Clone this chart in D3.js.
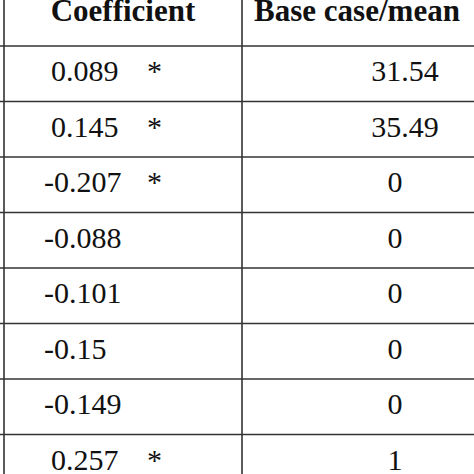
<!DOCTYPE html>
<html lang="en">
<head>
<meta charset="UTF-8">
<title>Coefficient table</title>
<style>
  body { margin: 0; background: #fff; }
  text { font-family: "Liberation Serif", "Times New Roman", serif; fill: #111; }
</style>
</head>
<body>
<svg height="474" width="474"></svg>
<script src="https://d3js.org/d3.v7.min.js"></script>
<script>
    var headers = ["Coefficient", "Base case/mean"];
    var coefs = ["0.089", "0.145", "-0.207", "-0.088", "-0.101", "-0.15", "-0.149", "0.257"];
    var stars = [true, true, true, false, false, false, false, true];
    var baseVals = ["31.54", "35.49", "0", "0", "0", "0", "0", "1"];

    var svg = d3.select("svg");
    var firstLine = 46, rowH = 55.5, divX = 242, leftX = 4;

    // one band per data row
    var rowScale = d3.scaleBand()
        .domain(d3.range(coefs.length))
        .range([firstLine, firstLine + rowH * coefs.length]);

    var lines = svg.append("g").attr("stroke", "#333").attr("stroke-width", 1.6);

    rowScale.domain().forEach(function(i) {
        lines.append("line")
            .attr("x1", 0).attr("x2", 474)
            .attr("y1", rowScale(i)).attr("y2", rowScale(i));
    });
    lines.append("line").attr("x1", leftX).attr("x2", leftX).attr("y1", 0).attr("y2", 474);
    lines.append("line").attr("x1", divX).attr("x2", divX).attr("y1", 0).attr("y2", 474);

    // header
    svg.append("text").attr("x", 123).attr("y", 21)
        .attr("text-anchor", "middle").attr("font-weight", "bold").attr("font-size", 31)
        .text(headers[0]);
    svg.append("text").attr("x", 357).attr("y", 21)
        .attr("text-anchor", "middle").attr("font-weight", "bold").attr("font-size", 31)
        .text(headers[1]);

    var rows = svg.selectAll(".row")
        .data(coefs)
        .enter().append("g")
        .attr("class", "row")
        .attr("transform", function(d, i) { return "translate(0," + (rowScale(i) + 35) + ")"; });

    rows.append("text")
        .attr("x", function(d) { return d.charAt(0) === "-" ? 44 : 51; })
        .attr("font-size", 30)
        .text(function(d) { return d; });

    rows.append("text")
        .attr("x", 147)
        .attr("font-size", 30)
        .text(function(d, i) { return stars[i] ? "*" : ""; });

    rows.append("text")
        .attr("x", function(d, i) { return baseVals[i].length > 1 ? 405 : 395; })
        .attr("text-anchor", "middle")
        .attr("font-size", 30)
        .text(function(d, i) { return baseVals[i]; });
</script>
</body>
</html>
